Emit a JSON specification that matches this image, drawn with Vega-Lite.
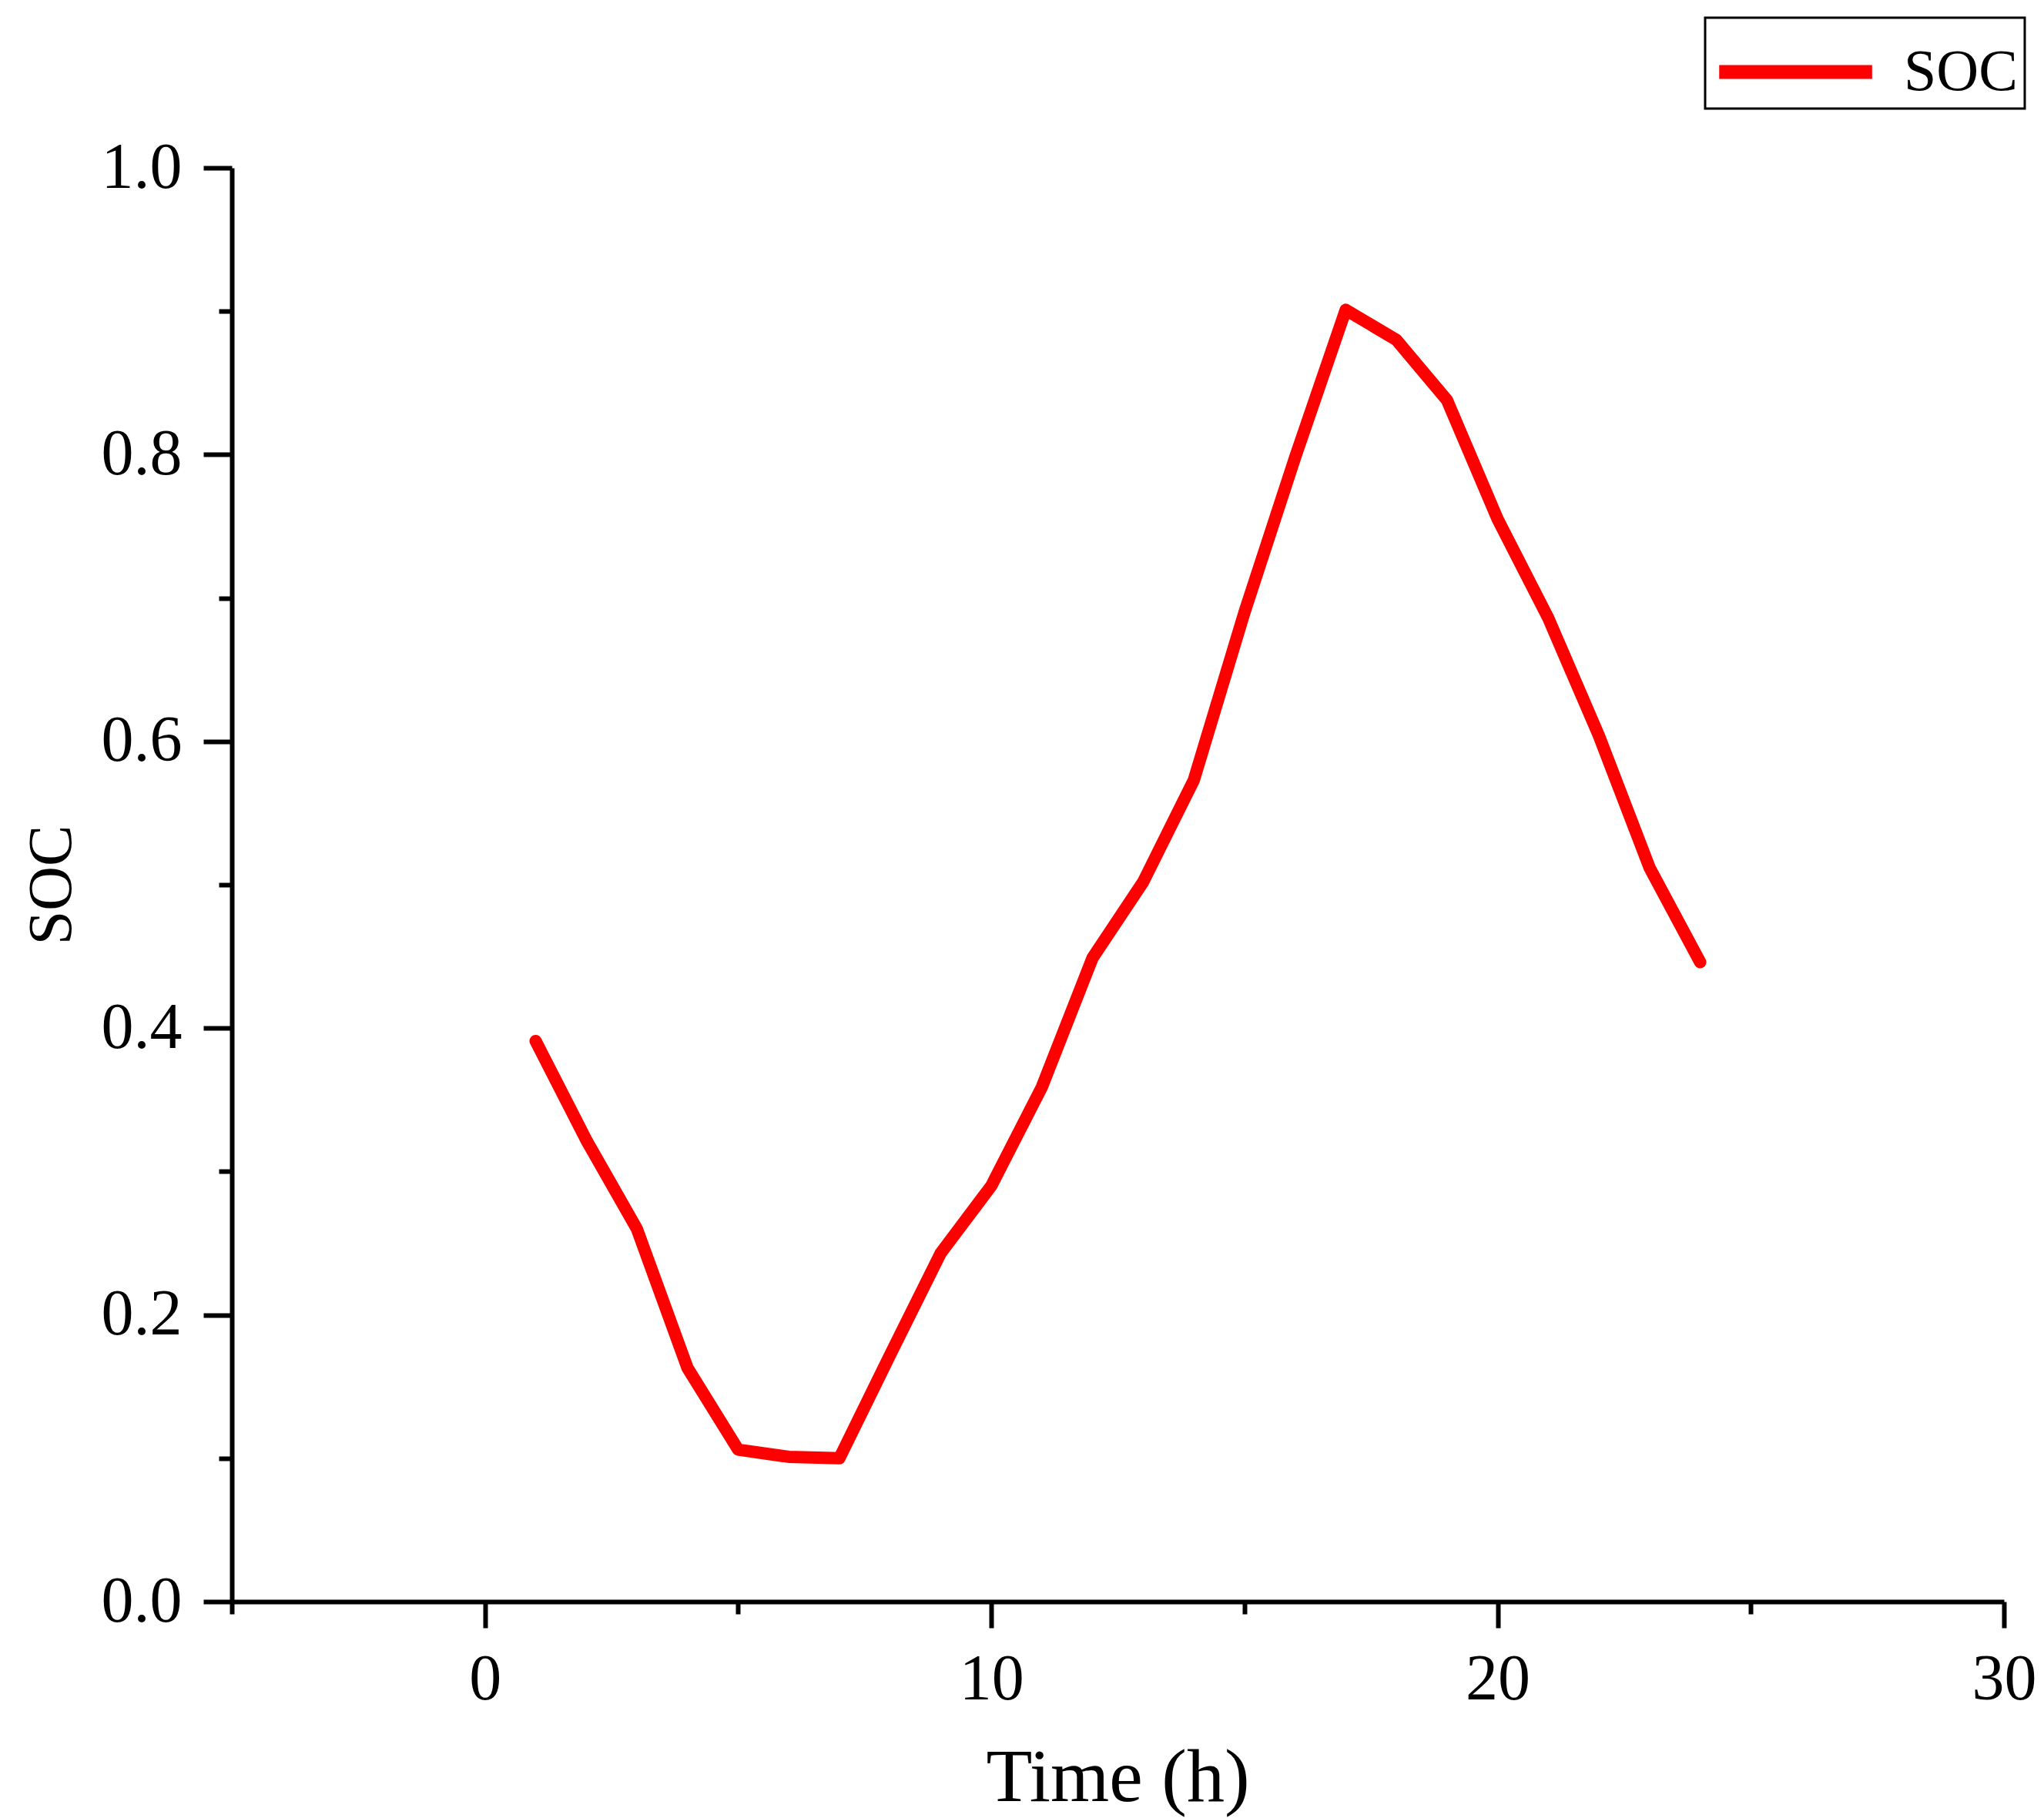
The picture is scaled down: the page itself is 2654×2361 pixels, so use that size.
{
  "$schema": "https://vega.github.io/schema/vega-lite/v6.json",
  "width": 2301,
  "height": 1862,
  "autosize": {"type": "none"},
  "padding": {"left": 301, "top": 218, "right": 52, "bottom": 281},
  "background": "white",
  "config": {"view": {"stroke": null}, "font": "Liberation Serif", "legend": {"strokeWidth": 3}},
  "data": {
    "values": [
      {"hour": 1, "soc": 0.391, "series": "SOC"},
      {"hour": 2, "soc": 0.322, "series": "SOC"},
      {"hour": 3, "soc": 0.26, "series": "SOC"},
      {"hour": 4, "soc": 0.163, "series": "SOC"},
      {"hour": 5, "soc": 0.106, "series": "SOC"},
      {"hour": 6, "soc": 0.101, "series": "SOC"},
      {"hour": 7, "soc": 0.1, "series": "SOC"},
      {"hour": 8, "soc": 0.172, "series": "SOC"},
      {"hour": 9, "soc": 0.243, "series": "SOC"},
      {"hour": 10, "soc": 0.29, "series": "SOC"},
      {"hour": 11, "soc": 0.359, "series": "SOC"},
      {"hour": 12, "soc": 0.449, "series": "SOC"},
      {"hour": 13, "soc": 0.502, "series": "SOC"},
      {"hour": 14, "soc": 0.573, "series": "SOC"},
      {"hour": 15, "soc": 0.69, "series": "SOC"},
      {"hour": 16, "soc": 0.798, "series": "SOC"},
      {"hour": 17, "soc": 0.901, "series": "SOC"},
      {"hour": 18, "soc": 0.88, "series": "SOC"},
      {"hour": 19, "soc": 0.838, "series": "SOC"},
      {"hour": 20, "soc": 0.755, "series": "SOC"},
      {"hour": 21, "soc": 0.686, "series": "SOC"},
      {"hour": 22, "soc": 0.604, "series": "SOC"},
      {"hour": 23, "soc": 0.512, "series": "SOC"},
      {"hour": 24, "soc": 0.446, "series": "SOC"}
    ]
  },
  "mark": {"type": "line", "strokeWidth": 16, "strokeCap": "round", "strokeJoin": "round"},
  "encoding": {
    "x": {
      "field": "hour",
      "type": "quantitative",
      "scale": {"domain": [-5, 30], "nice": false, "zero": false},
      "axis": {
        "title": "Time (h)",
        "values": [-5, 0, 5, 10, 15, 20, 25, 30],
        "tickSize": {"condition": {"test": "datum.value % 10 === 0", "value": 34}, "value": 16},
        "labelExpr": "datum.value % 10 === 0 ? datum.label : ''",
        "grid": false,
        "domainColor": "black",
        "domainWidth": 6,
        "tickColor": "black",
        "tickWidth": 6,
        "labelFont": "Liberation Serif",
        "labelFontSize": 84,
        "labelColor": "black",
        "labelPadding": 26,
        "labelFlush": false,
        "labelOverlap": false,
        "labelBound": false,
        "titleFont": "Liberation Serif",
        "titleFontSize": 98,
        "titleFontWeight": "normal",
        "titleColor": "black",
        "titleX": 1150,
        "titleY": 258,
        "titleBaseline": "alphabetic"
      }
    },
    "y": {
      "field": "soc",
      "type": "quantitative",
      "scale": {"domain": [0, 1], "nice": false},
      "axis": {
        "title": "SOC",
        "values": [0, 0.1, 0.2, 0.3, 0.4, 0.5, 0.6, 0.7, 0.8, 0.9, 1.0],
        "format": ".1f",
        "tickSize": {"condition": {"test": "abs(datum.value * 10 - 2 * round(datum.value * 5)) < 0.01", "value": 37}, "value": 17},
        "labelExpr": "abs(datum.value * 10 - 2 * round(datum.value * 5)) < 0.01 ? datum.label : ''",
        "grid": false,
        "domainColor": "black",
        "domainWidth": 6,
        "tickColor": "black",
        "tickWidth": 6,
        "labelFont": "Liberation Serif",
        "labelFontSize": 84,
        "labelColor": "black",
        "labelPadding": 28,
        "labelFlush": false,
        "labelOverlap": false,
        "labelBound": false,
        "titleFont": "Liberation Serif",
        "titleFontSize": 80,
        "titleFontWeight": "normal",
        "titleColor": "black",
        "titleX": -210,
        "titleY": 931,
        "titleBaseline": "alphabetic"
      }
    },
    "color": {
      "field": "series",
      "type": "nominal",
      "scale": {"range": ["#ff0000"]},
      "legend": {
        "title": null,
        "orient": "none",
        "legendX": 1913,
        "legendY": -195,
        "symbolType": "M-1,0H2.8",
        "symbolSize": 10920,
        "symbolStrokeWidth": 18,
        "labelFont": "Liberation Serif",
        "labelFontSize": 76,
        "labelColor": "black",
        "labelOffset": 126,
        "padding": 9,
        "strokeColor": "black",
        "cornerRadius": 0
      }
    }
  }
}
